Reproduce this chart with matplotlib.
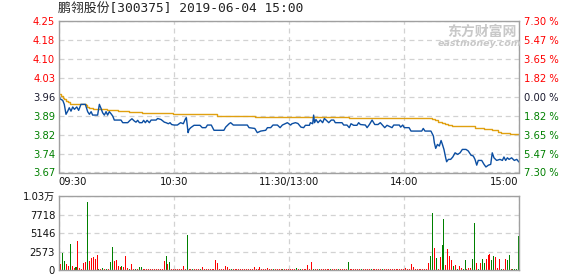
import matplotlib.pyplot as plt

plt.rcParams['font.family'] = ['DejaVu Sans', 'Noto Sans CJK SC']

title = "鹏翎股份[300375] 2019-06-04 15:00"
prev_close = 3.96

# percent grid levels and their labels
pct_levels = [-7.30, -5.47, -3.65, -1.82, 0.0, 1.82, 3.65, 5.47, 7.30]
price_labels = ["3.67", "3.74", "3.82", "3.89", "3.96", "4.03", "4.10", "4.18", "4.25"]
pct_labels = ["7.30 %", "5.47 %", "3.65 %", "1.82 %", "0.00 %", "1.82 %", "3.65 %", "5.47 %", "7.30 %"]

time_ticks = [0, 60, 120, 180, 240]
time_labels = ["09:30", "10:30", "11:30/13:00", "14:00", "15:00"]

# price line (minute, price)
price_min = [0, 0.7, 2.1, 2.9, 3.8, 4.7, 5.5, 6.4, 7.3, 8.2, 9.4, 10.4, 11.6, 13.9, 15.1,
             16, 16.9, 17.7, 20.3, 21.2, 22.1, 22.9, 23.8, 24.7, 25.5, 26.4, 27.3, 28.2,
             29, 32.5, 33.4, 36, 37.2, 38.2, 39.5, 40.3, 41.2, 42.1, 43.5, 44.3, 45.2,
             46.1, 47.3, 48.2, 50.8, 51.6, 53.4, 55.1, 56, 57.2, 58.1, 58.9, 60.2, 61.9,
             63.6, 65, 66.2, 66.6, 67.5, 68, 68.9, 70.6, 73.7, 74.9, 76.7, 77.6, 79.6, 81,
             86.2, 87.1, 88.9, 89.7, 91.1, 98.4, 99.3, 102.3, 103.6, 105.4, 108, 108.9,
             110.6, 111.8, 114.1, 115.5, 116.7, 119.3, 121, 121.7, 123.5, 124.8, 126.4,
             127.8, 128.7, 130.8, 131.3, 132.5, 133, 133.5, 134.2, 135.3, 136.5, 137.7,
             138.6, 139.5, 140.9, 142.2, 143.5, 144.3, 147.8, 148.7, 150.4, 151.6, 152.5,
             153.9, 155.6, 156.5, 157.4, 160, 160.9, 162.1, 163.5, 164.9, 166.6, 167.8,
             169, 170.1, 171.3, 173.9, 174.8, 177.7, 178.4, 179.5, 180.3, 182.8, 183.8,
             189.4, 190.2, 191.1, 194.2, 195.5, 196, 196.7, 197.6, 198.6, 199.5, 200.2,
             201, 201.9, 202.4, 203.3, 204.5, 205.6, 206.8, 208.2, 209.4, 210.6, 212.5,
             213.7, 215.1, 216.3, 217.2, 218.1, 218.9, 220.7, 221.9, 222.9, 224.2, 225.4,
             226.2, 227.1, 228.5, 230.2, 231.5, 232.3, 233.2, 234.1, 235, 236.3, 237.7,
             239, 240]
price_val = [3.971, 3.952, 3.946, 3.931, 3.893, 3.905, 3.918, 3.905, 3.921, 3.912, 3.921,
             3.908, 3.931, 3.931, 3.903, 3.893, 3.903, 3.890, 3.890, 3.931, 3.915, 3.899,
             3.890, 3.903, 3.890, 3.903, 3.895, 3.886, 3.871, 3.871, 3.861, 3.861, 3.870,
             3.876, 3.867, 3.863, 3.870, 3.861, 3.861, 3.870, 3.861, 3.870, 3.861, 3.871,
             3.871, 3.877, 3.873, 3.863, 3.861, 3.857, 3.861, 3.854, 3.852, 3.852, 3.861,
             3.857, 3.877, 3.880, 3.823, 3.835, 3.842, 3.851, 3.851, 3.842, 3.842, 3.852,
             3.852, 3.832, 3.832, 3.844, 3.857, 3.861, 3.852, 3.852, 3.842, 3.839, 3.823,
             3.829, 3.832, 3.842, 3.842, 3.852, 3.852, 3.842, 3.852, 3.861, 3.852, 3.857,
             3.861, 3.858, 3.844, 3.842, 3.851, 3.851, 3.861, 3.857, 3.890, 3.861, 3.873,
             3.861, 3.871, 3.861, 3.877, 3.871, 3.861, 3.871, 3.871, 3.861, 3.861, 3.852,
             3.852, 3.842, 3.857, 3.851, 3.851, 3.861, 3.854, 3.852, 3.842, 3.854, 3.871,
             3.854, 3.854, 3.861, 3.851, 3.842, 3.851, 3.842, 3.852, 3.852, 3.844, 3.852,
             3.842, 3.842, 3.829, 3.829, 3.839, 3.829, 3.829, 3.810, 3.784, 3.763, 3.778,
             3.772, 3.793, 3.778, 3.759, 3.727, 3.712, 3.721, 3.721, 3.730, 3.746, 3.740,
             3.746, 3.759, 3.759, 3.753, 3.737, 3.734, 3.721, 3.699, 3.717, 3.717, 3.702,
             3.692, 3.699, 3.702, 3.746, 3.727, 3.717, 3.721, 3.717, 3.730, 3.717, 3.727,
             3.721, 3.727, 3.717, 3.721, 3.712]

# average price line, step levels
avg_min = [0, 1, 2, 3, 4, 5, 6, 14, 15, 16, 18, 19.5, 25, 30.8, 36.5, 43.5, 50, 59.5, 67,
           82.8, 102.3, 151.6, 195, 196.3, 198, 200, 201.6, 203, 205, 217, 222, 226, 229,
           231, 235.5, 240]
avg_val = [3.971, 3.962, 3.956, 3.950, 3.944, 3.940, 3.933, 3.928, 3.922, 3.918, 3.915,
           3.912, 3.908, 3.905, 3.903, 3.899, 3.897, 3.895, 3.893, 3.886, 3.882, 3.878,
           3.874, 3.870, 3.865, 3.861, 3.857, 3.852, 3.848, 3.839, 3.835, 3.832, 3.827,
           3.823, 3.819, 3.819]

# volume per minute (0..240) and colour code r/g
volume = [2250, 840, 2390, 1270, 840, 560, 3610, 560, 240, 420, 4080, 280, 140, 940, 1130, 9560, 1270, 1730, 1830, 1550,
          2110, 140, 140, 280, 140, 140, 140, 1170, 3230, 1270, 1410, 560, 420, 560, 420, 1970, 280, 140, 840, 140,
          140, 140, 420, 420, 140, 140, 140, 140, 140, 140, 140, 140, 140, 140, 140, 1270, 1970, 840, 1130, 140,
          140, 140, 140, 140, 140, 600, 140, 4920, 140, 140, 140, 140, 140, 140, 140, 470, 140, 140, 140, 140,
          140, 140, 1400, 1030, 140, 140, 140, 560, 420, 140, 140, 140, 140, 140, 140, 140, 140, 140, 140, 140,
          140, 140, 420, 140, 140, 420, 140, 140, 140, 280, 140, 140, 140, 140, 140, 140, 140, 140, 140, 140,
          140, 140, 140, 140, 280, 140, 140, 140, 140, 140, 650, 140, 1130, 140, 140, 140, 140, 140, 140, 140,
          140, 140, 140, 140, 140, 140, 140, 140, 140, 140, 140, 1130, 140, 140, 140, 140, 140, 140, 140, 140,
          140, 140, 140, 140, 140, 140, 140, 140, 140, 140, 140, 140, 140, 140, 140, 140, 140, 140, 140, 140,
          140, 240, 140, 140, 840, 420, 140, 140, 140, 140, 140, 140, 140, 980, 1970, 8010, 3090, 1690, 140, 1830,
          3520, 7170, 700, 2950, 1970, 1410, 560, 700, 140, 560, 240, 140, 1410, 140, 240, 240, 1550, 6610, 980, 140,
          980, 1550, 980, 1550, 2110, 2250, 1410, 1970, 1830, 240, 1550, 140, 140, 1550, 1410, 2110, 140, 140, 140, 140,
          4780]
vol_colors = ("grggrrgrrgrrrrrgrrrr" "rgrgrgrggrrrrgrrrgrr" "grggrrrrrrrrrrrrgrgr"
              "rrrrrrrgrrgrrrgrrrrr" "rrrrrrrrrrgrrrrrrrrr" "rrrrrrrrrrrrgrrrrgrr"
              "rrrrgrgrrrrrrgrrgrrr" "rrgrrrgrrrrgrrrrrrgr" "rrrgrrrrrgrrrrrrrrrr"
              "rrrrrrrrrrrrrrggrgrr" "ggrrrrgrgrrggrrrggrg" "rggrrrggrrrgrrggrggg" "g")
vol_ticks = [0, 2573, 5146, 7718, 10290]
vol_labels = ["0", "2573", "5146", "7718", "1.03万"]

RED = '#ff0000'
GREEN = '#008000'
DARK = '#1a1a2e'
GRID = '#d2d2d2'
SPINE = '#a0a0a0'

price_levels = [prev_close * (1 + p / 100) for p in pct_levels]
label_colors = [GREEN] * 4 + [DARK] + [RED] * 4

fig = plt.figure(figsize=(5.78, 2.76), dpi=100)
ax = fig.add_axes([0.1016, 0.375, 0.7958, 0.549])
axv = fig.add_axes([0.1016, 0.0217, 0.7958, 0.2671])

for a in (ax, axv):
    for s in a.spines.values():
        s.set_color(SPINE)
        s.set_linewidth(1.0)
    a.set_xlim(0, 240)
    a.set_xticks(time_ticks)
    a.grid(True, ls=(0, (4, 3)), color=GRID, lw=0.9)
    a.set_axisbelow(True)
    a.tick_params(length=0)

# price panel
ax.set_ylim(price_levels[0], price_levels[-1])
ax.set_yticks(price_levels)
ax.set_yticklabels(price_labels, fontsize=7.2)
ax.tick_params(axis='y', pad=2.6)
for lbl, c in zip(ax.get_yticklabels(), label_colors):
    lbl.set_color(c)
ax.set_xticklabels(time_labels, fontsize=7.2, color='#111111')
ax.tick_params(axis='x', pad=3)
xl = ax.get_xticklabels()
xl[0].set_ha('left')
xl[-1].set_ha('right')

ax.plot(avg_min, avg_val, color='#e0a010', lw=1.0, drawstyle='steps-post')
ax.plot(price_min, price_val, color='#0b4ea2', lw=1.0)

axr = ax.twinx()
axr.set_ylim(ax.get_ylim())
axr.set_yticks(price_levels)
axr.set_yticklabels(pct_labels, fontsize=7.2)
axr.tick_params(length=0, pad=3.8)
for s in axr.spines.values():
    s.set_visible(False)
for lbl, c in zip(axr.get_yticklabels(), label_colors):
    lbl.set_color(c)

# volume panel
bar_cols = [RED if c == 'r' else GREEN for c in vol_colors]
axv.bar(range(len(volume)), volume, width=0.55, color=bar_cols, linewidth=0)
axv.set_ylim(0, vol_ticks[-1])
axv.set_yticks(vol_ticks)
axv.set_yticklabels(vol_labels, fontsize=7.2, color='#111111')
axv.tick_params(axis='y', pad=2.6)
axv.set_xticklabels([])

fig.text(0.1, 0.966, title, fontsize=9.3, color='#222222', va='center', ha='left',
         family=['DejaVu Sans Mono', 'Noto Sans CJK SC'])
fig.text(0.833, 0.885, '东方财富网', fontsize=10, color='#c8c8c8', weight='bold',
         ha='center', va='center', family=['Noto Sans CJK SC', 'DejaVu Sans'])
fig.text(0.830, 0.843, 'eastmoney.com', fontsize=6.8, color='#c8c8c8', weight='bold',
         style='italic', ha='center', va='center')

fig.savefig('out.png', dpi=100)
